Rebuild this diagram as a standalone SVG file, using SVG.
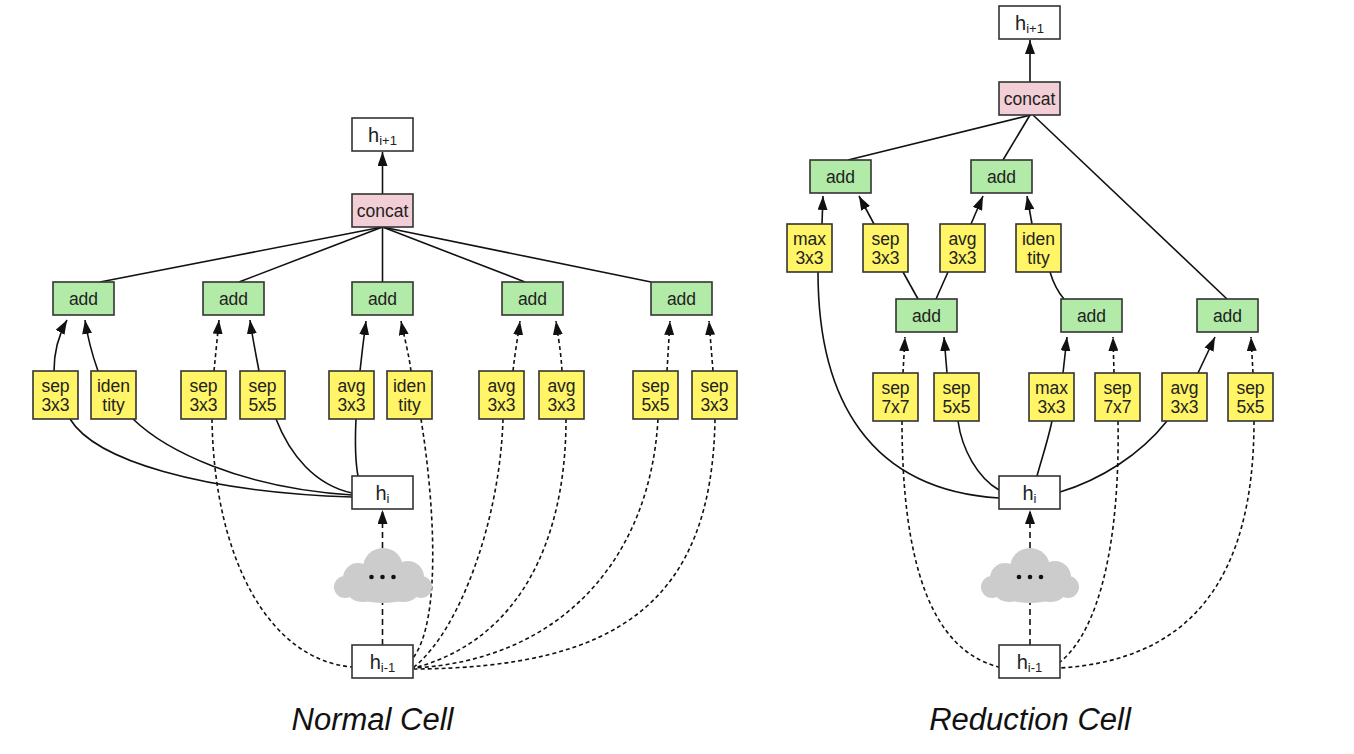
<svg xmlns="http://www.w3.org/2000/svg" width="1354" height="754" viewBox="0 0 1354 754">
<defs>
<style>
.b{stroke:#333;stroke-width:1.6}
.w{fill:#fff}
.c{fill:#f2cfd6}
.g{fill:#b2eba8}
.y{fill:#fff566}
text{font-family:"Liberation Sans",Arial,sans-serif;font-size:17.5px;fill:#222;text-anchor:middle}
.h{font-size:20px}
.s{font-size:13px}
.t{font-size:31px;font-style:italic;fill:#111}
.e{fill:none;stroke:#111;stroke-width:1.6}
.d{stroke-dasharray:4 3}
.k{stroke-dasharray:6 4}
.a{marker-end:url(#arr)}
.cl{fill:#cccccc}
</style>
<marker id="arr" markerWidth="14" markerHeight="10" refX="14" refY="5" orient="auto" markerUnits="userSpaceOnUse"><path d="M0,0 L14,5 L0,10 z" fill="#111"/></marker>
<g id="cloudshape">
<circle cx="0" cy="-8" r="20"/><circle cx="-25" cy="2" r="15"/><circle cx="25" cy="1" r="16"/><circle cx="-38" cy="11" r="11"/><circle cx="38" cy="11" r="11"/><ellipse cx="0" cy="14" rx="32" ry="13"/><ellipse cx="-20" cy="15" rx="16" ry="11"/><ellipse cx="20" cy="15" rx="16" ry="11"/>
</g>
</defs>

<g id="connectors">
<!-- normal cell -->
<path class="e a" d="M382.5,194 L382.5,152"/>
<path class="e" d="M382.5,227 L100,282"/>
<path class="e" d="M382.5,227 L239,282"/>
<path class="e" d="M382.5,227 L382.5,282"/>
<path class="e" d="M382.5,227 L525,282"/>
<path class="e" d="M382.5,227 L651,282"/>
<path class="e a" d="M54,371 C54,352 58,336 67,320"/>
<path class="e a" d="M98,371 C93,357 88,340 85,320"/>
<path class="e d a" d="M214,371 L219,320"/>
<path class="e a" d="M259,371 C256,355 252,335 250,320"/>
<path class="e a" d="M360,371 C362,352 364,336 366,321"/>
<path class="e d a" d="M411,371 C409,355 404,336 401,321"/>
<path class="e d a" d="M513,371 C515,352 518,336 520,321"/>
<path class="e d a" d="M562,371 C561,352 558,336 556,321"/>
<path class="e d a" d="M667,371 L670,321"/>
<path class="e d a" d="M713,371 L709,321"/>
<path class="e" d="M70,419 C95,460 200,492 352,497"/>
<path class="e" d="M133,419 C165,450 240,488 352,495"/>
<path class="e" d="M276,419 C290,455 315,485 352,493"/>
<path class="e" d="M356,419 C355,440 355,460 358,476"/>
<path class="e d" d="M212,419 C214,560 270,660 352,667"/>
<path class="e d" d="M421,419 C434,500 442,620 413,658"/>
<path class="e d" d="M503,419 C500,520 460,630 414,667"/>
<path class="e d" d="M566,419 C566,540 520,640 414,668"/>
<path class="e d" d="M658,419 C650,560 560,660 414,668"/>
<path class="e d" d="M715,419 C712,600 620,668 414,669"/>
<path class="e k" d="M382.5,645 L382.5,603"/>
<path class="e k a" d="M382.5,548 L382.5,510"/>
<!-- reduction cell -->
<path class="e a" d="M1030,82 L1030,40"/>
<path class="e" d="M1031,115 L848,160"/>
<path class="e" d="M1030,115 L1003,160"/>
<path class="e" d="M1033,115 L1227,299"/>
<path class="e a" d="M822,224 L823,196"/>
<path class="e a" d="M874,224 L859,196"/>
<path class="e a" d="M971,224 L983,196"/>
<path class="e a" d="M1032,224 L1027,196"/>
<path class="e" d="M903,272 L918,299"/>
<path class="e" d="M948,272 L936,299"/>
<path class="e" d="M1050,272 C1053,282 1058,292 1064,299"/>
<path class="e d a" d="M903,373 L905,337"/>
<path class="e a" d="M947,373 L944,337"/>
<path class="e a" d="M1063,373 L1067,337"/>
<path class="e d a" d="M1114,373 L1113,337"/>
<path class="e a" d="M1198,373 L1215,337"/>
<path class="e d a" d="M1253,373 L1251,337"/>
<path class="e" d="M818,272 C818,400 870,490 999,498"/>
<path class="e" d="M958,421 C962,450 978,478 999,490"/>
<path class="e" d="M1052,421 C1048,440 1042,458 1037,476"/>
<path class="e" d="M1167,421 C1140,455 1100,480 1060,492"/>
<path class="e d" d="M902,421 C902,560 930,650 999,667"/>
<path class="e d" d="M1118,421 C1120,540 1100,630 1060,662"/>
<path class="e d" d="M1254,421 C1254,580 1190,660 1060,668"/>
<path class="e k" d="M1030,645 L1030,603"/>
<path class="e k a" d="M1030,548 L1030,510"/>
</g>

<!-- Normal cell nodes -->
<g id="n_hip1"><rect class="b w" x="352" y="118" width="61" height="33"/><text x="382.5" y="141.5"><tspan class="h">h</tspan><tspan class="s" dy="3">i+1</tspan></text></g>
<g id="n_concat"><rect class="b c" x="352" y="194" width="61" height="33"/><text x="382.5" y="216.5">concat</text></g>
<g id="n_add1"><rect class="b g" x="53" y="282" width="61" height="33"/><text x="83.5" y="304.5">add</text></g>
<g id="n_add2"><rect class="b g" x="203" y="282" width="61" height="33"/><text x="233.5" y="304.5">add</text></g>
<g id="n_add3"><rect class="b g" x="352" y="282" width="61" height="33"/><text x="382.5" y="304.5">add</text></g>
<g id="n_add4"><rect class="b g" x="502" y="282" width="61" height="33"/><text x="532.5" y="304.5">add</text></g>
<g id="n_add5"><rect class="b g" x="651" y="282" width="61" height="33"/><text x="681.5" y="304.5">add</text></g>
<g id="n_op1"><rect class="b y" x="33" y="371" width="45" height="48"/><text x="55.5" y="392">sep</text><text x="55.5" y="410.5">3x3</text></g>
<g id="n_op2"><rect class="b y" x="91" y="371" width="45" height="48"/><text x="113.5" y="392">iden</text><text x="113.5" y="410.5">tity</text></g>
<g id="n_op3"><rect class="b y" x="181" y="371" width="45" height="48"/><text x="203.5" y="392">sep</text><text x="203.5" y="410.5">3x3</text></g>
<g id="n_op4"><rect class="b y" x="240" y="371" width="45" height="48"/><text x="262.5" y="392">sep</text><text x="262.5" y="410.5">5x5</text></g>
<g id="n_op5"><rect class="b y" x="329" y="371" width="45" height="48"/><text x="351.5" y="392">avg</text><text x="351.5" y="410.5">3x3</text></g>
<g id="n_op6"><rect class="b y" x="387" y="371" width="45" height="48"/><text x="409.5" y="392">iden</text><text x="409.5" y="410.5">tity</text></g>
<g id="n_op7"><rect class="b y" x="479" y="371" width="45" height="48"/><text x="501.5" y="392">avg</text><text x="501.5" y="410.5">3x3</text></g>
<g id="n_op8"><rect class="b y" x="539" y="371" width="45" height="48"/><text x="561.5" y="392">avg</text><text x="561.5" y="410.5">3x3</text></g>
<g id="n_op9"><rect class="b y" x="633" y="371" width="45" height="48"/><text x="655.5" y="392">sep</text><text x="655.5" y="410.5">5x5</text></g>
<g id="n_op10"><rect class="b y" x="692" y="371" width="45" height="48"/><text x="714.5" y="392">sep</text><text x="714.5" y="410.5">3x3</text></g>
<g id="n_hi"><rect class="b w" x="352" y="476" width="61" height="33"/><text x="382.5" y="499.5"><tspan class="h">h</tspan><tspan class="s" dy="3">i</tspan></text></g>
<g id="n_cloud"><use href="#cloudshape" class="cl" x="383" y="576"/><circle cx="371.5" cy="577" r="2.3" fill="#111"/><circle cx="382.5" cy="577" r="2.3" fill="#111"/><circle cx="393.5" cy="577" r="2.3" fill="#111"/></g>
<g id="n_him1"><rect class="b w" x="352" y="645" width="61" height="33"/><text x="382.5" y="668.5"><tspan class="h">h</tspan><tspan class="s" dy="3.5">i-1</tspan></text></g>
<text class="t" x="372.5" y="730">Normal Cell</text>

<!-- Reduction cell nodes -->
<g id="r_hip1"><rect class="b w" x="999" y="6" width="61" height="33"/><text x="1029.5" y="29.5"><tspan class="h">h</tspan><tspan class="s" dy="3">i+1</tspan></text></g>
<g id="r_concat"><rect class="b c" x="999" y="82" width="61" height="33"/><text x="1029.5" y="104.5">concat</text></g>
<g id="r_addTL"><rect class="b g" x="810" y="160" width="61" height="33"/><text x="840.5" y="182.5">add</text></g>
<g id="r_addTM"><rect class="b g" x="971" y="160" width="61" height="33"/><text x="1001.5" y="182.5">add</text></g>
<g id="r_op1"><rect class="b y" x="787" y="224" width="45" height="48"/><text x="809.5" y="245">max</text><text x="809.5" y="263.5">3x3</text></g>
<g id="r_op2"><rect class="b y" x="863" y="224" width="45" height="48"/><text x="885.5" y="245">sep</text><text x="885.5" y="263.5">3x3</text></g>
<g id="r_op3"><rect class="b y" x="940" y="224" width="45" height="48"/><text x="962.5" y="245">avg</text><text x="962.5" y="263.5">3x3</text></g>
<g id="r_op4"><rect class="b y" x="1016" y="224" width="45" height="48"/><text x="1038.5" y="245">iden</text><text x="1038.5" y="263.5">tity</text></g>
<g id="r_addA"><rect class="b g" x="896" y="299" width="61" height="33"/><text x="926.5" y="321.5">add</text></g>
<g id="r_addB"><rect class="b g" x="1061" y="299" width="61" height="33"/><text x="1091.5" y="321.5">add</text></g>
<g id="r_addC"><rect class="b g" x="1197" y="299" width="61" height="33"/><text x="1227.5" y="321.5">add</text></g>
<g id="r_op5"><rect class="b y" x="873" y="373" width="45" height="48"/><text x="895.5" y="394">sep</text><text x="895.5" y="412.5">7x7</text></g>
<g id="r_op6"><rect class="b y" x="934" y="373" width="45" height="48"/><text x="956.5" y="394">sep</text><text x="956.5" y="412.5">5x5</text></g>
<g id="r_op7"><rect class="b y" x="1029" y="373" width="45" height="48"/><text x="1051.5" y="394">max</text><text x="1051.5" y="412.5">3x3</text></g>
<g id="r_op8"><rect class="b y" x="1095" y="373" width="45" height="48"/><text x="1117.5" y="394">sep</text><text x="1117.5" y="412.5">7x7</text></g>
<g id="r_op9"><rect class="b y" x="1162" y="373" width="45" height="48"/><text x="1184.5" y="394">avg</text><text x="1184.5" y="412.5">3x3</text></g>
<g id="r_op10"><rect class="b y" x="1228" y="373" width="45" height="48"/><text x="1250.5" y="394">sep</text><text x="1250.5" y="412.5">5x5</text></g>
<g id="r_hi"><rect class="b w" x="999" y="476" width="61" height="33"/><text x="1029.5" y="499.5"><tspan class="h">h</tspan><tspan class="s" dy="3">i</tspan></text></g>
<g id="r_cloud"><use href="#cloudshape" class="cl" x="1030" y="576"/><circle cx="1019" cy="577" r="2.3" fill="#111"/><circle cx="1030" cy="577" r="2.3" fill="#111"/><circle cx="1041" cy="577" r="2.3" fill="#111"/></g>
<g id="r_him1"><rect class="b w" x="999" y="645" width="61" height="33"/><text x="1029.5" y="668.5"><tspan class="h">h</tspan><tspan class="s" dy="3.5">i-1</tspan></text></g>
<text class="t" x="1030" y="730">Reduction Cell</text>
</svg>
